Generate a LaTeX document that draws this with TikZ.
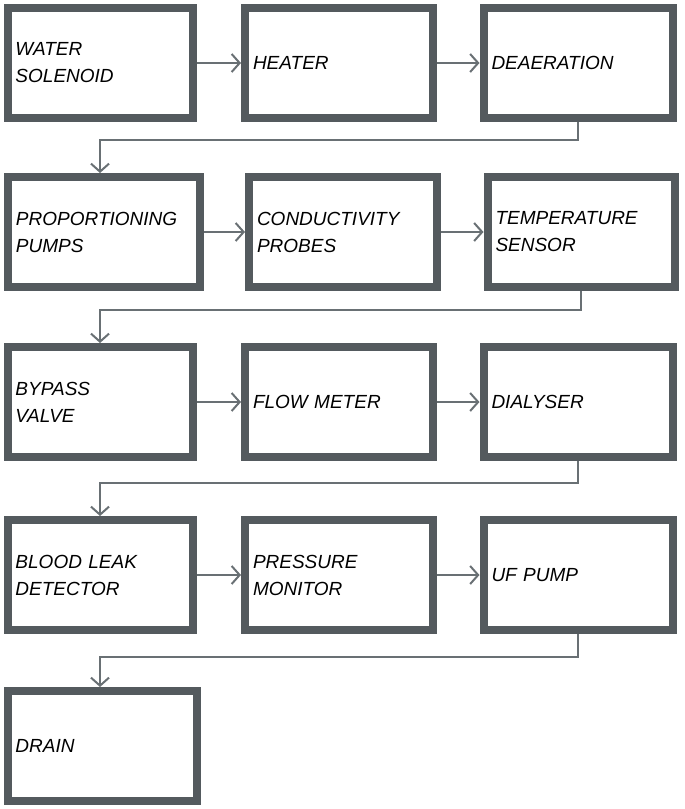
\documentclass[tikz,border=0pt]{standalone}
\usepackage{fontspec}
\setmainfont{Liberation Sans}
\usetikzlibrary{arrows.meta}
\definecolor{boxgray}{RGB}{84,90,94}
\definecolor{arrgray}{RGB}{105,112,116}
\tikzset{
  blk/.style={draw=boxgray, line width=8pt, rectangle, minimum height=110pt,
    inner xsep=8pt, align=left, font=\itshape\fontsize{19}{27}\selectfont},
  flow/.style={draw=arrgray, line width=2pt, -{Straight Barb[length=8pt,width=18pt,line width=2pt]}}
}
\begin{document}
\begin{tikzpicture}[x=1pt,y=-1pt]
\useasboundingbox (0,0) rectangle (685,809);

% row 1
\node [blk, text width=169pt] (water) at (100,63) {WATER\\SOLENOID};
\node [blk, text width=172pt] (heater) at (339,63) {HEATER};
\node [blk, text width=173pt] (deaer) at (578,63) {DEAERATION};
\draw [flow] (water) -- (heater);
\draw [flow] (heater) -- (deaer);

% row 2
\node [blk, text width=176pt] (pumps) at (104,232) {PROPORTIONING\\PUMPS};
\node [blk, text width=172pt] (cond) at (343,232) {CONDUCTIVITY\\PROBES};
\node [blk, text width=171pt] (temp) at (581,232) {TEMPERATURE\\SENSOR};
\draw [flow] (pumps) -- (cond);
\draw [flow] (cond) -- (temp);

% row 3
\node [blk, text width=169pt] (bypass) at (100,402) {BYPASS\\VALVE};
\node [blk, text width=172pt] (flowm) at (339,402) {FLOW METER};
\node [blk, text width=173pt] (dial) at (578,402) {DIALYSER};
\draw [flow] (bypass) -- (flowm);
\draw [flow] (flowm) -- (dial);

% row 4
\node [blk, text width=169pt] (leak) at (100,575) {BLOOD LEAK\\DETECTOR};
\node [blk, text width=172pt] (press) at (339,575) {PRESSURE\\MONITOR};
\node [blk, text width=173pt] (uf) at (578,575) {UF PUMP};
\draw [flow] (leak) -- (press);
\draw [flow] (press) -- (uf);

% row 5
\node [blk, text width=173pt] (drain) at (102,746) {DRAIN};

% row links
\draw [flow] (deaer.south) |- (100,140) -- (pumps.north -| 100,0);
\draw [flow] (temp.south) |- (100,310) -- (bypass.north);
\draw [flow] (dial.south) |- (100,483) -- (leak.north);
\draw [flow] (uf.south) |- (100,657) -- (drain.north -| 100,0);
\end{tikzpicture}
\end{document}
